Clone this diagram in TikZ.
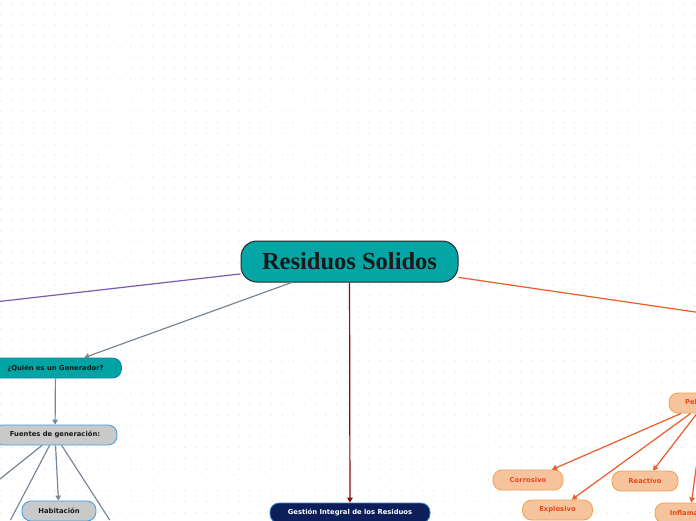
\documentclass[tikz,border=0pt]{standalone}
\usepackage{fontspec}
\setmainfont{DejaVu Sans}
\newfontfamily\titlefont{Liberation Serif}
\usetikzlibrary{arrows.meta}
\definecolor{tealc}{HTML}{03A5A5}
\definecolor{tealq}{HTML}{02A3A3}
\definecolor{grayfill}{HTML}{C9C9C9}
\definecolor{blueedge}{HTML}{3A9EE0}
\definecolor{navy}{HTML}{0C1F5B}
\definecolor{peach}{HTML}{F6C49C}
\definecolor{orangeedge}{HTML}{F0A050}
\definecolor{orangetext}{HTML}{E8461E}
\definecolor{purpleline}{HTML}{7A5CB0}
\definecolor{grayline}{HTML}{7A8896}
\definecolor{redline}{HTML}{8B0A0A}
\definecolor{orangeline}{HTML}{EF5A2A}
\definecolor{dotc}{HTML}{E9E9E9}
\tikzset{
  small/.style={rounded corners=9pt, minimum height=20pt, inner sep=0pt,
    font=\fontsize{6.8}{8}\selectfont\bfseries, line width=0.8pt},
  tealbox/.style={small, fill=tealq, draw=tealq!80!blue, text=black!90},
  graybox/.style={small, fill=grayfill, draw=blueedge, text=black!90},
  navybox/.style={small, fill=navy, draw=blueedge!80!navy, text=white},
  orangebox/.style={small, fill=peach, draw=orangeedge, text=orangetext},
  tip/.style={-{Triangle[length=5pt,width=5.5pt]}},
  conn/.style={line width=1.2pt},
}
\begin{document}
\begin{tikzpicture}[x=1pt,y=-1pt]
\useasboundingbox (0,0) rectangle (696,520);
\clip (0,0) rectangle (696,520);
\fill[white] (0,0) rectangle (696,520);
\foreach \i in {0,...,64}{
  \foreach \j in {0,...,48}{
    \fill[dotc] (0.85+10.83*\i, 3.4+10.83*\j) circle (0.85pt);
  }
}
% central node
\node[rounded corners=16pt, minimum width=217pt, minimum height=41pt, inner sep=0pt,
  fill=tealc, draw=black!85, line width=1pt, text=black!90,
  font=\titlefont\fontsize{24.5}{28}\selectfont\bfseries] (c) at (349.5,261.5) {Residuos Solidos};

% left branch
\node[tealbox, minimum width=132pt] (q) at (55.5,368) {¿Quién es un Generador?};
\node[graybox, minimum width=124pt] (f) at (55,435) {Fuentes de generación:};
\node[graybox, minimum width=74pt] (h) at (59,511) {Habitación};

% center branch
\node[navybox, minimum width=160pt] (g) at (350,513) {Gestión Integral de los Residuos};

% right branch
\node[orangebox, minimum width=72pt] (p) at (705,403) {Peligrosos};
\node[orangebox, minimum width=70pt] (co) at (528,480) {Corrosivo};
\node[orangebox, minimum width=66pt] (re) at (645,481) {Reactivo};
\node[orangebox, minimum width=70pt] (ex) at (557.5,510) {Explosivo};
\node[orangebox, minimum width=70pt] (in) at (690,513) {Inflamable};

% free ends
\coordinate (pl) at (0,301.4);
\coordinate (or) at (696,312.1);
\coordinate (f1) at (0,479);
\coordinate (f2) at (10.5,520);
\coordinate (f3) at (109.7,520);

% connectors
\draw[purpleline, conn] (c) -- (pl);
\draw[grayline, conn, tip] (c) -- (q);
\draw[redline, conn, tip] (c) -- (g);
\draw[orangeline, conn] (c) -- (or);

\draw[grayline, conn, tip] (q) -- (f);
\draw[grayline, conn] (f) -- (f1);
\draw[grayline, conn] (f) -- (f2);
\draw[grayline, conn, tip] (f) -- (h);
\draw[grayline, conn] (f) -- (f3);

\draw[orangeline, conn, tip] (p) -- (co);
\draw[orangeline, conn, tip] (p) -- (ex);
\draw[orangeline, conn, tip] (p) -- (re);
\draw[orangeline, conn, tip] (p) -- (in);
\end{tikzpicture}
\end{document}
